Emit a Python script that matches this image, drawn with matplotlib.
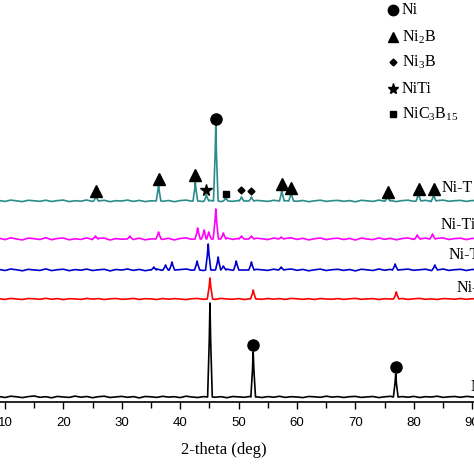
import matplotlib
matplotlib.use("Agg")
import matplotlib.pyplot as plt
import numpy as np

# baseline grid, 1 deg steps (9..91)
grid = np.arange(9, 92, 1.0)

# hand-read baseline wiggle for each pattern (px units)
wig_ni = [0.5, -0.5, 0.8, 0.2, -0.6, 0.4, 1.0, -0.3, 0.3, -0.8, 0.6, 0.0, -0.4, 0.9, -0.2, 0.5,
          -0.7, 0.3, 0.8, -0.5, 0.1, 0.6, -0.3, 0.4, -0.9, 0.5, 0.2, -0.4, 0.7, -0.1, 0.3, -0.6,
          0.8, 0.0, -0.5, 0.4, 0.6, -0.2, 0.3, -0.7, 0.5, 0.1, -0.3, 0.6, 0.2, -0.5, 0.4, -0.2,
          0.7, -0.4, 0.3, 0.0, -0.6, 0.5, 0.2, -0.3, 0.8, -0.1, 0.4, -0.5, 0.3, 0.6, -0.4, 0.1,
          0.5, -0.6, 0.2, 0.7, -0.3, 0.4, -0.2, 0.6, -0.5, 0.3, 0.0, 0.8, -0.4, 0.2, 0.5, -0.3,
          0.6, 0.1, -0.2]
wig_red = [0.3, -0.4, 0.6, 0.0, -0.5, 0.5, 0.2, -0.3, 0.7, -0.2, 0.4, -0.6, 0.3, 0.1, -0.4, 0.6,
           -0.1, 0.4, -0.5, 0.2, 0.5, -0.3, 0.0, 0.6, -0.4, 0.3, 0.1, -0.5, 0.5, -0.2, 0.4, 0.0,
           -0.6, 0.3, 0.5, -0.3, 0.2, -0.4, 0.6, 0.0, -0.2, 0.4, -0.5, 0.3, 0.1, -0.3, 0.5, -0.1,
           0.4, -0.4, 0.6, 0.2, -0.3, 0.3, -0.5, 0.5, 0.0, -0.2, 0.4, -0.4, 0.2, 0.6, -0.3, 0.1,
           0.4, -0.5, 0.3, 0.0, -0.2, 0.5, -0.4, 0.2, 0.6, -0.3, 0.1, -0.5, 0.4, 0.2, -0.2, 0.5,
           -0.3, 0.3, 0.0]
wig_blue = [0.6, -0.5, 1.0, 0.2, -0.8, 0.7, 0.0, -0.4, 1.1, -0.6, 0.3, 0.8, -0.7, 0.4, -0.2, 0.9,
            -0.5, 0.2, 0.7, -0.9, 0.5, 0.0, 1.0, -0.4, 0.6, -0.7, 0.3, 0.9, -0.3, 0.5, -0.8, 0.4,
            1.0, -0.2, 0.6, -0.5, 0.8, 0.1, -0.6, 0.9, -0.3, 0.5, 0.0, -0.7, 0.7, 0.2, -0.4, 0.8,
            -0.6, 0.4, 1.0, -0.3, 0.6, -0.8, 0.2, 0.9, -0.5, 0.3, 0.7, -0.4, 0.5, -0.9, 0.8, 0.1,
            -0.5, 1.0, -0.2, 0.6, -0.7, 0.4, 0.9, -0.3, 0.2, 0.8, -0.6, 0.5, 1.0, -0.4, 0.3, 0.7,
            -0.5, 0.6, 0.0]
wig_mag = [0.8, -0.6, 1.2, 0.0, -0.9, 0.9, 0.3, -0.5, 1.3, -0.7, 0.5, 1.0, -0.8, 0.2, -0.4, 1.1,
           -0.6, 0.6, 0.9, -1.0, 0.4, -0.2, 1.2, -0.5, 0.8, -0.8, 0.1, 1.0, -0.4, 0.7, -0.9, 0.5,
           1.1, -0.3, 0.4, -0.7, 0.9, 0.2, -0.8, 1.0, -0.4, 0.6, -0.1, -0.9, 0.8, 0.3, -0.6, 1.0,
           -0.7, 0.5, 1.2, -0.4, 0.7, -0.9, 0.3, 1.0, -0.6, 0.4, 0.8, -0.5, 0.6, -1.0, 0.9, 0.0,
           -0.6, 1.1, -0.3, 0.7, -0.8, 0.5, 1.0, -0.4, 0.3, 0.9, -0.7, 0.6, 1.1, -0.5, 0.4, 0.8,
           -0.6, 0.7, 0.1]
wig_teal = [0.5, -0.4, 0.9, 0.1, -0.6, 0.7, 0.2, -0.3, 0.8, -0.5, 0.4, 0.9, -0.6, 0.3, -0.2, 1.0,
            -0.4, 0.5, 0.7, -0.7, 0.3, 0.0, 0.9, -0.4, 0.6, -0.6, 0.2, 0.8, -0.3, 0.5, -0.7, 0.4,
            0.9, -0.2, 0.5, -0.5, 0.7, 0.1, -0.6, 0.8, -0.3, 0.5, 0.0, -0.6, 0.6, 0.2, -0.4, 0.7,
            -0.5, 0.4, 0.9, -0.3, 0.5, -0.7, 0.2, 0.8, -0.4, 0.3, 0.6, -0.3, 0.4, -0.8, 0.7, 0.1,
            -0.4, 0.9, -0.2, 0.5, -0.6, 0.4, 0.8, -0.3, 0.2, 0.7, -0.5, 0.4, 0.9, -0.3, 0.3, 0.6,
            -0.4, 0.5, 0.0]

# peaks: position (deg) and height above baseline
pk_ni_x = [45.1, 52.5, 76.9]
pk_ni_h = [94, 45, 23]
pk_red_x = [45.1, 52.5, 77.0]
pk_red_h = [21, 9, 7]
pk_blue_x = [35.5, 37.5, 38.6, 42.9, 44.8, 46.5, 47.4, 49.6, 52.2, 57.3, 76.8, 83.6]
pk_blue_h = [3, 5, 8, 9, 26, 13, 4, 9, 8, 3, 6, 5]
pk_mag_x = [25.5, 31.4, 36.3, 43.0, 44.1, 44.9, 46.1, 47.4, 50.5, 52.2, 57.3, 80.6, 83.2]
pk_mag_h = [3, 3, 7, 11, 9, 7, 30, 6, 3, 3, 2, 4, 5]
pk_teal_x = [25.6, 36.3, 42.6, 44.5, 46.1, 47.8, 50.5, 52.2, 57.4, 59.0, 75.5, 80.8, 83.4]
pk_teal_h = [5, 17, 19, 6, 76, 3, 4, 4, 11, 9, 5, 8, 6]

# vertical offsets of the stacked patterns
offsets = [5, 103, 132, 163, 201]
colors = ["black", "#ff0000", "#0000cc", "#ff00ff", "#2a8c8c"]
labels = ["N", "Ni-", "Ni-T", "Ni-Ti", "Ni-T"]

# phase markers (x, y)
ni_mk_x = [46.1, 52.5, 76.9]
ni_mk_y = [283, 57, 35]
ni2b_x = [25.6, 36.3, 42.6, 57.4, 59.0, 75.5, 80.8, 83.4]
ni2b_y = [211, 223, 227, 218, 214, 210, 213, 213]
ni3b_x = [50.5, 52.2]
ni3b_y = [212, 211]
niti_x = [44.5]
niti_y = [212]
nicb_x = [47.8]
nicb_y = [208]

plt.rcParams['mathtext.fontset'] = 'custom'
plt.rcParams['mathtext.rm'] = 'Liberation Serif'
plt.rcParams['mathtext.it'] = 'Liberation Serif:italic'
serif = 'Liberation Serif'


def build(wig, px, ph, base, hw):
    pts = []
    for g, w in zip(grid, wig):
        if all(abs(g - p) > hw for p in px):
            pts.append((g, base + w))
    for p, h in zip(px, ph):
        pts.append((p - hw, base))
        pts.append((p - hw * 0.3, base + h * 0.6))
        pts.append((p, base + h))
        pts.append((p + hw * 0.3, base + h * 0.6))
        pts.append((p + hw, base))
    pts.sort()
    return [q[0] for q in pts], [q[1] for q in pts]


fig = plt.figure(figsize=(4.74, 4.74), dpi=100)
ax = fig.add_axes([0, 72 / 474, 1, 402 / 474])

sets = [(wig_ni, pk_ni_x, pk_ni_h, 0.4), (wig_red, pk_red_x, pk_red_h, 0.45),
        (wig_blue, pk_blue_x, pk_blue_h, 0.45), (wig_mag, pk_mag_x, pk_mag_h, 0.45),
        (wig_teal, pk_teal_x, pk_teal_h, 0.4)]
for (wig, px, ph, hw), off, c in zip(sets, offsets, colors):
    x, y = build(wig, px, ph, off, hw)
    ax.plot(x, y, color=c, lw=1.2)

ax.plot(ni_mk_x, ni_mk_y, 'o', color='black', ms=8, ls='none')
ax.plot(ni2b_x, ni2b_y, '^', color='black', ms=8, ls='none')
ax.plot(ni3b_x, ni3b_y, 'D', color='black', ms=3.5, ls='none')
ax.plot(niti_x, niti_y, '*', color='black', ms=8.5, ls='none')
ax.plot(nicb_x, nicb_y, 's', color='black', ms=4, ls='none')

# sample labels (cut by the right edge, as in the source)
lab_x = [89.8, 87.4, 85.9, 84.5, 84.8]
lab_y = [15, 114, 147, 177, 214]
for lx, ly, t in zip(lab_x, lab_y, labels):
    ax.text(lx, ly, t, family=serif, fontsize=11.5, va='center', ha='left')

# legend
leg_mk = ['o', '^', 'D', '*', 's']
leg_ms = [7.5, 7.5, 3.5, 8, 4]
leg_txt = ['Ni', r'Ni$_\mathrm{2}$B', r'Ni$_\mathrm{3}$B', 'NiTi', r'NiC$_\mathrm{3}$B$_\mathrm{15}$']
leg_y = [392, 365, 340, 313, 288]
for m, s, t, ly in zip(leg_mk, leg_ms, leg_txt, leg_y):
    ax.plot([76.4], [ly], m, color='black', ms=s)
    ax.text(77.9, ly, t, family=serif, fontsize=11.5, va='center', ha='left')

ax.set_xlim(9.16, 90.3)
ax.set_ylim(0, 402)
ax.set_xticks(np.arange(10, 91, 10))
ax.set_xticks(np.arange(15, 90, 10), minor=True)
ax.tick_params(axis='x', which='major', direction='out', length=5, width=1, labelsize=9.5, pad=6)
ax.tick_params(axis='x', which='minor', direction='out', length=4, width=1)
for lb in ax.get_xticklabels():
    lb.set_family('Liberation Sans')
ax.set_yticks([])
for s in ['left', 'right', 'top']:
    ax.spines[s].set_visible(False)
ax.spines['bottom'].set_linewidth(1.2)
ax.set_xlabel("2-theta (deg)", family=serif, fontsize=12)
ax.xaxis.set_label_coords(224 / 474, -0.1)

fig.savefig("out.png", dpi=100)
